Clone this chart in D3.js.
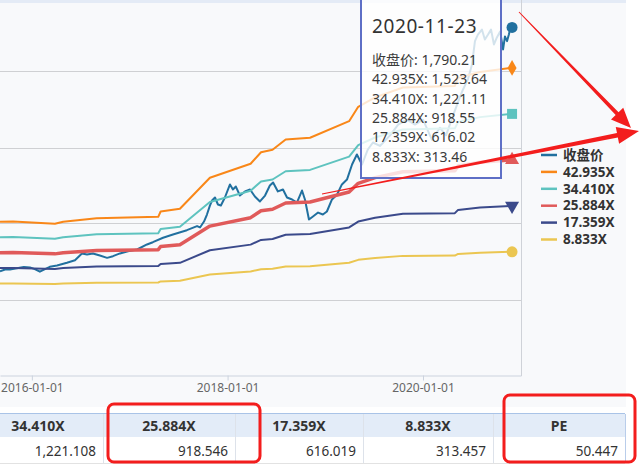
<!DOCTYPE html>
<meta charset="utf-8">
<style>
    body {
        margin: 0;
        background: #fff;
    }

    svg {
        display: block;
        font-family: "Noto Sans", "Noto Sans CJK SC", sans-serif;
    }
</style>

<body>
    <script src="https://d3js.org/d3.v7.min.js"></script>
    <svg width="640" height="466"></svg>
    <script>
        // series names + colours (legend order)
        var seriesNames = ["收盘价", "42.935X", "34.410X", "25.884X", "17.359X", "8.833X"];
        var seriesColors = ["#21709f", "#f98718", "#5ec3bf", "#e05a5a", "#3b4a8b", "#ebc651"];

        // closing price
        var priceDates = ["2015-09-04", "2015-09-23", "2015-10-11", "2015-11-06", "2015-12-02", "2015-12-25",
            "2016-01-12", "2016-01-31", "2016-02-19", "2016-03-08", "2016-04-04", "2016-05-11", "2016-06-10",
            "2016-07-06", "2016-07-25", "2016-08-16", "2016-09-11", "2016-10-08", "2016-10-30", "2016-11-25",
            "2016-12-25", "2017-01-28", "2017-03-06", "2017-03-28", "2017-05-05", "2017-06-11", "2017-08-02",
            "2017-09-09", "2017-09-20", "2017-10-05", "2017-10-16", "2017-10-27", "2017-11-04", "2017-11-15",
            "2017-11-26", "2017-12-07", "2017-12-22", "2018-01-10", "2018-01-21", "2018-02-01", "2018-02-16",
            "2018-03-07", "2018-03-26", "2018-04-13", "2018-05-02", "2018-05-21", "2018-06-08", "2018-06-20",
            "2018-07-08", "2018-07-27", "2018-08-11", "2018-08-30", "2018-09-17", "2018-10-06", "2018-10-17",
            "2018-11-01", "2018-11-16", "2018-12-05", "2018-12-23", "2019-01-07", "2019-01-26", "2019-02-14",
            "2019-03-04", "2019-03-23", "2019-04-11", "2019-04-29", "2019-05-18", "2019-06-09", "2019-06-28",
            "2019-07-24", "2019-08-31", "2019-09-30", "2019-11-02", "2019-12-02", "2020-01-01", "2020-02-03",
            "2020-03-04", "2020-03-27", "2020-04-18", "2020-05-11", "2020-05-29", "2020-06-17", "2020-07-02",
            "2020-07-13", "2020-07-24", "2020-08-08", "2020-08-19", "2020-08-31", "2020-09-11", "2020-09-22",
            "2020-10-03", "2020-10-15", "2020-10-26", "2020-11-02", "2020-11-10", "2020-11-17", "2020-11-23"];
        var priceValues = [186, 197, 197, 206, 214, 211,
            200, 183, 200, 215, 224, 242, 258,
            303, 296, 303, 289, 274, 285, 303,
            318, 329, 362, 377, 406, 428, 456,
            483, 474, 513, 559, 618, 651, 671,
            625, 618, 671, 757, 724, 743, 684,
            711, 724, 678, 645, 684, 750, 770,
            711, 724, 671, 658, 638, 717, 658,
            526, 546, 572, 559, 579, 658, 691,
            757, 789, 888, 954, 888, 987, 1033,
            1010, 1080, 1151, 1184, 1151, 1183, 1052,
            1130, 1080, 1190, 1300, 1380, 1450, 1546,
            1700, 1743, 1776, 1711, 1743, 1776, 1678,
            1724, 1763, 1645, 1730, 1700, 1745, 1790.21];

        // PE bands
        var bandDates = ["2015-09-04", "2015-10-23", "2016-03-27", "2016-04-27", "2016-08-30", "2017-04-17",
            "2017-04-26", "2017-07-07", "2017-10-27", "2018-03-28", "2018-05-06", "2018-06-18", "2018-08-06",
            "2018-11-05", "2019-03-31", "2019-05-04", "2019-07-06", "2019-10-18", "2020-04-29", "2020-05-11",
            "2020-08-01", "2020-11-23"];
        var band42 = [511, 513, 498, 511, 535, 544, 579, 597, 801, 893, 969, 985, 1053, 1064, 1173, 1268, 1330, 1395, 1405, 1458, 1497, 1523.64];
        var band34 = [409.5, 411.1, 399.1, 409.5, 428.8, 436.0, 464.0, 478.5, 642.0, 715.7, 776.6, 789.4, 843.9, 852.7, 940.1, 1016.2, 1065.9, 1118.0, 1126.0, 1168.5, 1199.8, 1221.11];
        var band25 = [308.1, 309.3, 300.2, 308.1, 322.5, 328.0, 349.1, 359.9, 482.9, 538.4, 584.2, 593.8, 634.8, 641.5, 707.2, 764.4, 801.8, 841.0, 847.0, 879.0, 902.5, 918.55];
        var band17 = [206.6, 207.4, 201.3, 206.6, 216.3, 219.9, 234.1, 241.4, 323.9, 361.0, 391.8, 398.2, 425.7, 430.2, 474.3, 512.7, 537.7, 564.0, 568.1, 589.5, 605.3, 616.02];
        var band8 = [105.1, 105.5, 102.5, 105.1, 110.1, 111.9, 119.1, 122.8, 164.8, 183.7, 199.4, 202.6, 216.6, 218.9, 241.3, 260.9, 273.6, 287.0, 289.1, 300.0, 308.0, 313.46];

        var xTicks = ["2016-01-01", "2018-01-01", "2020-01-01"];
        var yTicks = [0, 500, 1000, 1500, 2000];

        var tooltipDate = "2020-11-23";
        var tooltipValues = ["1,790.21", "1,523.64", "1,221.11", "918.55", "616.02", "313.46"];

        var tableHeaders = ["34.410X", "25.884X", "17.359X", "8.833X", "PE"];
        var tableValues = ["1,221.108", "918.546", "616.019", "313.457", "50.447"];

        var parse = d3.timeParse("%Y-%m-%d");
        var svg = d3.select("svg");

        var plotW = 521;
        var x = d3.scaleTime()
            .domain([parse("2015-09-04"), parse("2021-01-01")])
            .range([0, plotW]);
        var y = d3.scaleLinear().domain([-500, 2000]).range([375.5, -4.5]);

        // background
        svg.append("rect").attr("x", 0).attr("y", 0).attr("width", 626).attr("height", 407).attr("fill", "#f8f9fb");
        svg.append("rect").attr("x", 0).attr("y", 0).attr("width", 626).attr("height", 3).attr("fill", "#e4ebf6");

        // grid
        svg.append("g").selectAll("line")
            .data(yTicks)
            .enter().append("line")
            .attr("x1", 0).attr("x2", plotW)
            .attr("y1", d => Math.round(y(d)) + 0.5)
            .attr("y2", d => Math.round(y(d)) + 0.5)
            .attr("stroke", "#cfd0d3");

        svg.append("line")
            .attr("x1", plotW + 0.5).attr("x2", plotW + 0.5)
            .attr("y1", -5).attr("y2", 376)
            .attr("stroke", "#cfd2d8");

        // x axis
        var xAxis = svg.append("g")
            .attr("transform", "translate(0,375.5)")
            .call(d3.axisBottom(x)
                .tickValues(xTicks.map(parse))
                .tickFormat(d3.timeFormat("%Y-%m-%d"))
                .tickSize(5)
                .tickSizeOuter(0)
                .tickPadding(3));
        xAxis.select(".domain").attr("stroke", "#ccd3de");
        xAxis.selectAll(".tick line").attr("stroke", "#ccd3de");
        xAxis.selectAll("text")
            .attr("fill", "#666")
            .style("font-size", "12px")
            .style("font-family", "'Noto Sans', sans-serif");

        // lines
        var line = d3.line()
            .x(d => x(d[0]))
            .y(d => y(d[1]));

        var price = priceDates.map((d, i) => [parse(d), priceValues[i]]);
        var bands = [band42, band34, band25, band17, band8].map(function (arr) {
            return bandDates.map((d, i) => [parse(d), arr[i]]);
        });
        var allSeries = [price].concat(bands);
        var widths = [2, 2, 2, 3.5, 2, 2];

        svg.append("g").selectAll("path")
            .data(allSeries)
            .enter().append("path")
            .attr("d", line)
            .attr("fill", "none")
            .attr("stroke", (d, i) => seriesColors[i])
            .attr("stroke-width", (d, i) => widths[i])
            .attr("stroke-linejoin", "round");

        // tooltip box (drawn over the lines)
        var tip = svg.append("g");
        tip.append("rect")
            .attr("x", 361).attr("y", -10)
            .attr("width", 140).attr("height", 188)
            .attr("fill", "rgba(255,255,255,0.8)")
            .attr("stroke", "#5e6fc6")
            .attr("stroke-width", 2);
        tip.append("text")
            .attr("x", 372).attr("y", 33)
            .attr("fill", "#333")
            .style("font-size", "19px")
            .style("letter-spacing", "0.6px")
            .text(tooltipDate);
        tip.selectAll(".tipline")
            .data(seriesNames)
            .enter().append("text")
            .attr("class", "tipline")
            .attr("x", 372)
            .attr("y", (d, i) => 65 + i * 19.3)
            .attr("fill", "#3a3a3a")
            .style("font-size", "14px")
            .text((d, i) => d + ": " + tooltipValues[i]);

        // end symbols
        var symbolTypes = [d3.symbolCircle, d3.symbolDiamond, d3.symbolSquare, d3.symbolTriangle, d3.symbolTriangle, d3.symbolCircle];
        var symbolSizes = [95, 70, 100, 85, 85, 95];
        svg.append("g").selectAll("path")
            .data(allSeries)
            .enter().append("path")
            .attr("transform", function (d, i) {
                var last = d[d.length - 1];
                var rot = i === 4 ? " rotate(180)" : "";
                return "translate(" + (x(last[0]) + 1.5) + "," + y(last[1]) + ")" + rot;
            })
            .attr("d", (d, i) => d3.symbol().type(symbolTypes[i]).size(symbolSizes[i])())
            .attr("fill", (d, i) => seriesColors[i]);

        // legend
        var legend = svg.append("g").selectAll("g")
            .data(seriesNames)
            .enter().append("g")
            .attr("transform", (d, i) => "translate(0," + (155 + i * 16.9) + ")");
        legend.append("line")
            .attr("x1", 541).attr("x2", 557)
            .attr("stroke", (d, i) => seriesColors[i])
            .attr("stroke-width", 2.5);
        legend.append("text")
            .attr("x", 563)
            .attr("dy", "0.35em")
            .attr("fill", "#333")
            .style("font-size", "13.5px")
            .style("font-weight", "bold")
            .text(d => d);

        // table
        var colEdges = [-27, 103, 235, 363, 493, 625];
        var table = svg.append("g");
        table.append("rect").attr("x", 0).attr("y", 413).attr("width", 625).attr("height", 24).attr("fill", "#e3ecf8");
        table.append("line").attr("x1", 0).attr("x2", 625).attr("y1", 413.5).attr("y2", 413.5).attr("stroke", "#a9c3e7");
        table.append("line").attr("x1", 0).attr("x2", 625).attr("y1", 463.5).attr("y2", 463.5).attr("stroke", "#e2e2e2");
        table.selectAll(".sep")
            .data(colEdges.slice(1))
            .enter().append("line")
            .attr("class", "sep")
            .attr("x1", d => d + 0.5).attr("x2", d => d + 0.5)
            .attr("y1", 414).attr("y2", 463)
            .attr("stroke", (d, i) => i === 4 ? "#b9cdea" : "#dde2ea");
        table.selectAll(".th")
            .data(tableHeaders)
            .enter().append("text")
            .attr("class", "th")
            .attr("x", (d, i) => (colEdges[i] + colEdges[i + 1]) / 2)
            .attr("y", 426)
            .attr("dy", "0.35em")
            .attr("text-anchor", "middle")
            .attr("fill", "#333")
            .style("font-size", "14px")
            .style("font-weight", "bold")
            .text(d => d);
        table.selectAll(".td")
            .data(tableValues)
            .enter().append("text")
            .attr("class", "td")
            .attr("x", (d, i) => colEdges[i + 1] - 7)
            .attr("y", 451)
            .attr("dy", "0.35em")
            .attr("text-anchor", "end")
            .attr("fill", "#333")
            .style("font-size", "13.5px")
            .text(d => d);

        // red annotations
        var red = "#f31d1d";
        function arrow(x1, y1, x2, y2, w0, w1, headLen, headW) {
            var dx = x2 - x1, dy = y2 - y1, len = Math.sqrt(dx * dx + dy * dy);
            var ux = dx / len, uy = dy / len, px = -uy, py = ux;
            var bx = x2 - ux * headLen, by = y2 - uy * headLen;
            var pts = [
                [x1 + px * w0 / 2, y1 + py * w0 / 2],
                [bx + px * w1 / 2, by + py * w1 / 2],
                [bx + px * headW / 2, by + py * headW / 2],
                [x2, y2],
                [bx - px * headW / 2, by - py * headW / 2],
                [bx - px * w1 / 2, by - py * w1 / 2],
                [x1 - px * w0 / 2, y1 - py * w0 / 2]
            ];
            svg.append("polygon")
                .attr("points", pts.map(p => p.join(",")).join(" "))
                .attr("fill", red);
        }
        arrow(519, 12, 631, 128, 1, 4, 20, 17);
        arrow(322, 194, 639, 131, 1, 4.5, 22, 17);

        svg.append("rect")
            .attr("x", 108).attr("y", 404).attr("width", 152).attr("height", 58)
            .attr("rx", 6).attr("fill", "none").attr("stroke", red).attr("stroke-width", 3);
        svg.append("rect")
            .attr("x", 504).attr("y", 395).attr("width", 131).attr("height", 67)
            .attr("rx", 6).attr("fill", "none").attr("stroke", red).attr("stroke-width", 3);
    </script>
</body>
